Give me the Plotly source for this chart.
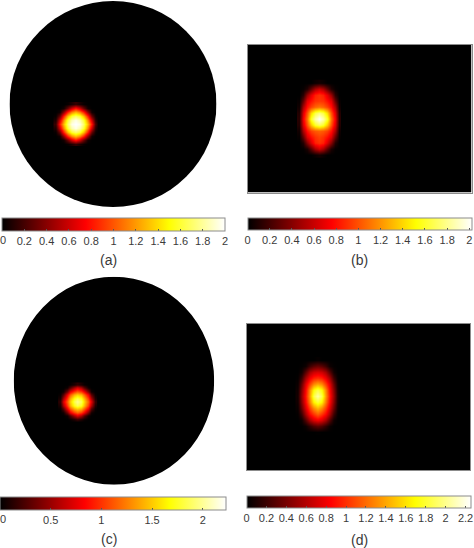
import plotly.graph_objects as go

W = 474
H = 548

# matlab "hot"
hot = [[0, '#000000'], [0.375, '#ff0000'], [0.75, '#ffff00'], [1, '#ffffff']]

# panel (a), values
ax_x = [-57.5, -53.5, -49.5, -45.5, -41.5, -37.5, -33.5, -29.5, -25.5, -21.5, -17.5]
ax_y = [0, 4, 8, 12, 16, 20, 24, 28, 32, 36, 40]
a_z = [
    [0, 0, 0, .02, .08, .15, .08, .02, 0, 0, 0],
    [0, 0, .05, .3, .6, .8, .6, .3, .05, 0, 0],
    [0, .05, .42, .85, 1.15, 1.3, 1.15, .85, .42, .05, 0],
    [.02, .3, .85, 1.3, 1.6, 1.7, 1.6, 1.3, .85, .3, .02],
    [.08, .6, 1.15, 1.6, 1.85, 1.95, 1.85, 1.6, 1.15, .6, .08],
    [.15, .8, 1.3, 1.7, 1.95, 2.0, 1.95, 1.7, 1.3, .8, .15],
    [.08, .6, 1.15, 1.6, 1.85, 1.95, 1.85, 1.6, 1.15, .6, .08],
    [.02, .3, .85, 1.3, 1.6, 1.7, 1.6, 1.3, .85, .3, .02],
    [0, .05, .42, .85, 1.15, 1.3, 1.15, .85, .42, .05, 0],
    [0, 0, .05, .3, .6, .8, .6, .3, .05, 0, 0],
    [0, 0, 0, .02, .08, .15, .08, .02, 0, 0, 0],
]

# panel (b)
bx = [51, 55, 59, 63, 67, 71, 75, 79, 83, 87, 91]
by = [38, 44, 50, 56, 62, 68, 74, 80, 86, 92, 98, 104, 110]
b_z = [
    [0, 0, 0, 0, .03, .05, .03, 0, 0, 0, 0],
    [0, .02, .1, .3, .5, .6, .5, .3, .1, .02, 0],
    [0, .12, .45, .68, .85, .9, .85, .68, .45, .12, 0],
    [.02, .3, .68, .8, .9, .92, .9, .8, .68, .3, .02],
    [.05, .5, .8, .95, 1.05, 1.1, 1.05, .95, .8, .5, .05],
    [.1, .65, 1.0, 1.4, 1.65, 1.75, 1.65, 1.4, 1.0, .65, .1],
    [.12, .72, 1.1, 1.6, 1.85, 2.0, 1.85, 1.6, 1.1, .72, .12],
    [.1, .65, 1.0, 1.35, 1.6, 1.7, 1.6, 1.35, 1.0, .65, .1],
    [.05, .5, .8, .95, 1.02, 1.05, 1.02, .95, .8, .5, .05],
    [.02, .3, .65, .8, .9, .95, .9, .8, .65, .3, .02],
    [0, .1, .4, .65, .85, .9, .85, .65, .4, .1, 0],
    [0, .01, .08, .28, .5, .62, .5, .28, .08, .01, 0],
    [0, 0, 0, 0, .03, .06, .03, 0, 0, 0, 0],
]

# panel (c)
cx = [-54, -50.5, -47, -43.5, -40, -36.5, -33, -29.5, -26, -22.5, -19]
cy = [3.5, 7, 10.5, 14, 17.5, 21, 24.5, 28, 31.5, 35, 38.5]
c_z = [
    [0, 0, 0, .02, .08, .15, .08, .02, 0, 0, 0],
    [0, 0, .05, .28, .55, .72, .55, .28, .05, 0, 0],
    [0, .05, .38, .78, 1.02, 1.15, 1.02, .78, .38, .05, 0],
    [.02, .28, .78, 1.15, 1.42, 1.52, 1.42, 1.15, .78, .28, .02],
    [.08, .55, 1.02, 1.42, 1.72, 1.85, 1.72, 1.42, 1.02, .55, .08],
    [.15, .72, 1.15, 1.52, 1.85, 1.98, 1.85, 1.52, 1.15, .72, .15],
    [.08, .55, 1.02, 1.42, 1.72, 1.85, 1.72, 1.42, 1.02, .55, .08],
    [.02, .28, .78, 1.15, 1.42, 1.52, 1.42, 1.15, .78, .28, .02],
    [0, .05, .38, .78, 1.02, 1.15, 1.02, .78, .38, .05, 0],
    [0, 0, .05, .28, .55, .72, .55, .28, .05, 0, 0],
    [0, 0, 0, .02, .08, .15, .08, .02, 0, 0, 0],
]

# panel (d)
dx = [51, 55, 59, 63, 67, 71, 75, 79, 83, 87, 91]
dy = [36, 42, 48, 54, 60, 66, 72, 78, 84, 90, 96, 102, 108]
d_z = [
    [0, 0, 0, 0, 0, .02, 0, 0, 0, 0, 0],
    [0, .01, .05, .2, .3, .35, .3, .2, .05, .01, 0],
    [0, .06, .3, .55, .68, .72, .68, .55, .3, .06, 0],
    [.01, .2, .55, .8, .95, 1.0, .95, .8, .55, .2, .01],
    [.03, .35, .75, 1.05, 1.3, 1.4, 1.3, 1.05, .75, .35, .03],
    [.05, .45, .85, 1.3, 1.7, 1.85, 1.7, 1.3, .85, .45, .05],
    [.06, .5, .9, 1.35, 1.85, 2.05, 1.85, 1.35, .9, .5, .06],
    [.05, .45, .85, 1.25, 1.65, 1.8, 1.65, 1.25, .85, .45, .05],
    [.03, .35, .72, 1.05, 1.3, 1.45, 1.3, 1.05, .72, .35, .03],
    [.01, .2, .55, .85, 1.02, 1.15, 1.02, .85, .55, .2, .01],
    [0, .05, .28, .55, .72, .8, .72, .55, .28, .05, 0],
    [0, 0, .04, .15, .25, .3, .25, .15, .04, 0, 0],
    [0, 0, 0, 0, 0, .01, 0, 0, 0, 0, 0],
]

ticks_ab = [0, .2, .4, .6, .8, 1, 1.2, 1.4, 1.6, 1.8, 2]
labels_ab = ['0', '0.2', '0.4', '0.6', '0.8', '1', '1.2', '1.4', '1.6', '1.8', '2']
ticks_c = [0, .5, 1, 1.5, 2]
labels_c = ['0', '0.5', '1', '1.5', '2']
ticks_d = [0, .2, .4, .6, .8, 1, 1.2, 1.4, 1.6, 1.8, 2, 2.2]
labels_d = ['0', '0.2', '0.4', '0.6', '0.8', '1', '1.2', '1.4', '1.6', '1.8', '2', '2.2']

font = 'Liberation Sans'
grey = '#8c8c8c'
text_col = '#3a3a3a'

fig = go.Figure()


def add_label(text, x, y, size, anchor='center'):
    fig.add_annotation(text=text, xref='paper', yref='paper',
                       x=x / W, y=1 - y / H, xanchor=anchor, yanchor='middle',
                       showarrow=False, borderpad=0,
                       font=dict(family=font, size=size, color=text_col))


def add_panel(n, x, y, z, box, bar, zmax, ticks, labels, xr, yr, name, name_pos, circle):
    xa = 'xaxis%d' % n
    ya = 'yaxis%d' % n
    fig.add_trace(go.Heatmap(
        x=x, y=y, z=z, xaxis='x%d' % n, yaxis='y%d' % n,
        zmin=0, zmax=zmax, zsmooth='best', colorscale=hot,
        hoverinfo='skip',
        colorbar=dict(
            orientation='h', xref='paper', yref='paper',
            x=bar[0] / W, xanchor='left',
            y=1 - bar[1] / H, yanchor='top',
            lenmode='pixels', len=bar[2] - bar[0],
            thickness=bar[3] - bar[1], thicknessmode='pixels',
            xpad=0, ypad=0,
            outlinecolor=grey, outlinewidth=1,
            tickmode='array', tickvals=ticks, ticktext=labels,
            ticks='inside', ticklen=2, tickcolor='#555555',
            tickangle=0,
            tickfont=dict(family=font, size=11, color=text_col),
        ),
    ))
    axis = dict(showgrid=False, zeroline=False, showticklabels=False, ticks='',
                showline=not circle, mirror=True, linecolor=grey, linewidth=1)
    fig.update_layout({
        xa: dict(axis, range=xr, domain=[box[0] / W, box[2] / W],
                 anchor='y%d' % n),
        ya: dict(axis, range=yr, domain=[1 - box[3] / H, 1 - box[1] / H],
                 anchor='x%d' % n),
    })
    fig.add_shape(type='circle' if circle else 'rect',
                  xref='x%d' % n, yref='y%d' % n,
                  x0=xr[0], x1=xr[1], y0=yr[0], y1=yr[1],
                  fillcolor='black', line=dict(width=0), layer='below')
    add_label(name, name_pos[0], name_pos[1], 14)


add_panel(1, ax_x, ax_y, a_z, (9.5, 1, 216.5, 207), (2, 218, 224.5, 231), 2.0,
          ticks_ab, labels_ab, [-103.5, 103.5], [103, -103], '(a)', (108, 260), True)
add_panel(2, bx, by, b_z, (248, 44.7, 471.5, 192.5), (247.5, 218.5, 471, 230.5), 2.02,
          ticks_ab, labels_ab, [0, 223.5], [147.8, 0], '(b)', (359, 260), False)
add_panel(3, cx, cy, c_z, (13.7, 276.7, 214.2, 484.7), (0, 497, 225.5, 509.5), 2.23,
          ticks_c, labels_c, [-100.2, 100.2], [104, -104], '(c)', (108.7, 539), True)
add_panel(4, dx, dy, d_z, (246.5, 324, 470, 470), (246.5, 496, 470, 507.5), 2.25,
          ticks_d, labels_d, [0, 223.5], [146, 0], '(d)', (359, 540), False)

# plotly drops the 0 tick label on the bars that start at the page edge
add_label(labels_ab[0], 6.5, 240, 11, 'right')
add_label(labels_c[0], 6.5, 519, 11, 'right')

fig.update_layout(
    width=W, height=H,
    margin=dict(l=0, r=0, t=0, b=0, autoexpand=False),
    paper_bgcolor='white', plot_bgcolor='rgba(0,0,0,0)',
)

# page margin would push the fixed-size plot off the window
fig.write_html("out.html", config={'displayModeBar': False},
               post_script="document.body.style.margin='0';")
